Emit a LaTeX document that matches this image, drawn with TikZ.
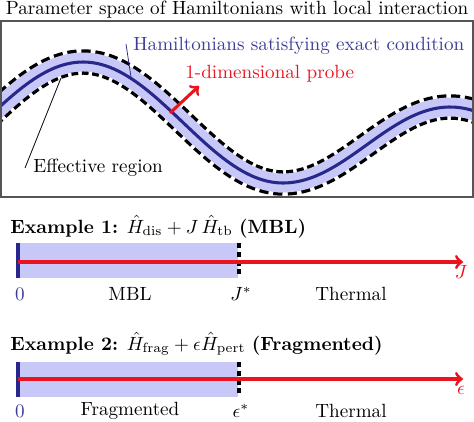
\documentclass[tikz,border=0pt]{standalone}
\usepackage{amsmath, amssymb}
\usepackage{tikz}
\usetikzlibrary{positioning,calc}
\definecolor{bandblue}{RGB}{200,200,248}
\definecolor{curveblue}{RGB}{40,40,140}
\definecolor{textblue}{RGB}{60,60,150}
\definecolor{probered}{RGB}{235,20,30}
\definecolor{framegray}{RGB}{85,85,85}
\newcommand{\wavepath}{plot[domain=-20:283, samples=80] (\x, {122.5-60.5*cos(0.9*(\x-83))}) -- plot[domain=283:500, samples=60] (\x, {145+38*cos(1.0778*(\x-283))})}

\begin{document}
\begin{tikzpicture}[x=0.5227pt, y=-0.5227pt,
  lbl/.style={inner sep=0pt, anchor=base},
  probe/.style={probered, line width=1.6pt, ->},
  critline/.style={black, line width=1.6pt, dash pattern=on 2.6pt off 2pt},
  zeroline/.style={curveblue, line width=1.6pt}]
  \useasboundingbox (0,0) rectangle (474,421);

  % parameter space
  \node[lbl] (title) at (237,14) {Parameter space of Hamiltonians with local interaction};
  \begin{scope}
    \clip (1,21) rectangle (473,197);
    \draw[black, line width=13.3pt, dash pattern=on 4.2pt off 2.2pt] \wavepath;
    \draw[bandblue, line width=9.9pt] \wavepath;
    \draw[curveblue, line width=1.6pt] \wavepath;
  \end{scope}
  \draw[framegray, line width=1pt] (1,21) rectangle (473,197);

  \node[lbl, anchor=base west, textblue] (exact) at (133,50) {Hamiltonians satisfying exact condition};
  \coordinate (exactend) at (126,44);
  \coordinate (exactpt) at (131,77);
  \draw[curveblue, thin] (exactend) -- (exactpt);

  \node[lbl, anchor=base west, probered] (probelbl) at (185,78) {1-dimensional probe};
  \coordinate (probestart) at (170,113);
  \coordinate (probeend) at (199,86);
  \draw[probe] (probestart) -- (probeend);

  \node[lbl, anchor=base west] (eff) at (33,172) {Effective region};
  \coordinate (effend) at (25,168);
  \coordinate (effpt) at (61,78);
  \draw[black, thin] (effend) -- (effpt);

  % example 1
  \node[lbl, anchor=base west] (ex1) at (10,233) {\textbf{Example 1:} $\hat{H}_{\mathrm{dis}} + J\,\hat{H}_{\mathrm{tb}}$ \textbf{(MBL)}};
  \fill[bandblue] (18,243) rectangle (238,278);
  \coordinate (o1) at (18,262);
  \coordinate (e1) at (463,262);
  \draw[zeroline] (18,243) -- (18,278);
  \draw[critline] (239,243) -- (239,278);
  \draw[probe] (o1) -- (e1);
  \node[lbl, probered] (J) at (461,278) {$J$};
  \node[lbl, textblue] (zero1) at (20,300) {0};
  \node[lbl] (mbl) at (130,300) {MBL};
  \node[lbl] (jstar) at (241,300) {$J^*$};
  \node[lbl] (therm1) at (351,300) {Thermal};

  % example 2
  \node[lbl, anchor=base west] (ex2) at (10,350) {\textbf{Example 2:} $\hat{H}_{\mathrm{frag}} + \epsilon\hat{H}_{\mathrm{pert}}$ \textbf{(Fragmented)}};
  \fill[bandblue] (18,362) rectangle (238,397);
  \coordinate (o2) at (18,379);
  \coordinate (e2) at (463,379);
  \draw[zeroline] (18,362) -- (18,397);
  \draw[critline] (239,362) -- (239,397);
  \draw[probe] (o2) -- (e2);
  \node[lbl, probered] (eps) at (461,394) {$\epsilon$};
  \node[lbl, textblue] (zero2) at (20,417) {0};
  \node[lbl] (frag) at (130,415) {Fragmented};
  \node[lbl] (epsstar) at (241,417) {$\epsilon^*$};
  \node[lbl] (therm2) at (351,417) {Thermal};
\end{tikzpicture}
\end{document}
